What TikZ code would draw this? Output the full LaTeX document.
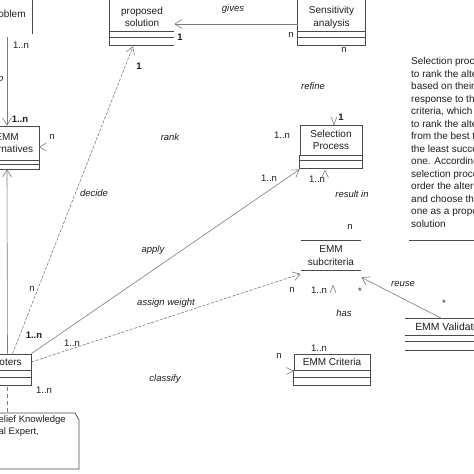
\documentclass[tikz,border=0pt]{standalone}
\usepackage{fontspec}
\setmainfont{Liberation Sans}
\usetikzlibrary{arrows.meta}
\definecolor{boxgray}{HTML}{4A4A4A}
\definecolor{linegray}{HTML}{7C7C7C}
\definecolor{ink}{HTML}{1E1E1E}
\newcommand{\boxfont}{\fontsize{10}{12.5}\selectfont}
\newcommand{\rolefont}{\fontsize{9.5}{11}\selectfont}
\newcommand{\verbfont}{\fontsize{9.5}{11}\selectfont\itshape}
% two empty compartments under a class name
\newcommand{\umlparts}[3]{\draw[box] (#1.south west) rectangle ([yshift=-#3pt]#1.south east)
  ([yshift=-#2pt]#1.south west) -- ([yshift=-#2pt]#1.south east);}
% open arrow head whose line is lost
\newcommand{\openhead}[3]{\draw[draw=linegray, line width=0.6pt] (#1) ++(#2+#3:8) -- (#1) -- ++(#2-#3:8);}
\begin{document}
\begin{tikzpicture}[x=1pt,y=-1pt,
    box/.style={draw=boxgray, line width=0.8pt},
    cls/.style={box, rectangle, inner sep=0pt, align=center, font=\boxfont, text=ink},
    bare/.style={cls, draw=none},
    role/.style={inner sep=0pt, font=\rolefont, text=ink},
    one/.style={role, font=\rolefont\bfseries},
    verb/.style={inner sep=0pt, font=\verbfont, text=ink},
    assoc/.style={draw=linegray, line width=0.6pt, -{Straight Barb[length=7pt,width=9pt]}},
    dep/.style={assoc, dash pattern=on 3pt off 1.5pt}]
  \useasboundingbox (0,0) rectangle (474,474);
  \fill[white] (0,0) rectangle (474,474);
  \clip (0,0) rectangle (474,474);
  \path
    (7,14) node[bare, minimum width=50pt, minimum height=40pt] (prob) {Problem}
    (7,143) node[cls, minimum width=64pt, minimum height=34pt] (alt) {EMM\\Alternatives}
    (142,17) node[bare, minimum width=64pt, minimum height=28pt] (sol) {proposed\\solution}
    (331.5,17.5) node[bare, minimum width=67pt, minimum height=27pt] (sens) {Sensitivity\\analysis}
    (331,140) node[cls, minimum width=62pt, minimum height=30pt] (sel) {Selection\\Process}
    (331,255.5) node[bare, minimum width=60pt, minimum height=29pt] (subc) {EMM\\subcriteria}
    (332,362) node[cls, minimum width=76pt, minimum height=16pt] (crit) {EMM Criteria}
    (449,327) node[bare, minimum width=88pt, minimum height=16pt, font={\fontsize{10.4}{12.5}\selectfont}] (valid) {EMM Validator}
    (7.5,362) node[cls, minimum width=47pt, minimum height=16pt] (vot) {Voters};
  \draw[box] (prob.east |- 0,-5) -- (prob.east |- 0,34);
  \umlparts{alt}{4}{9}
  \draw[box] (sol.west |- 0,-5) -- (sol.west |- 0,45) -- (sol.east |- 0,45)
    (sol.south west) -- (sol.south east) ([yshift=-6pt]sol.south west) -- ([yshift=-6pt]sol.south east);
  \draw[box] (sens.west |- 0,-5) rectangle (sens.east |- 0,45)
    (sens.south west) -- (sens.south east) ([yshift=-6pt]sens.south west) -- ([yshift=-6pt]sens.south east);
  \umlparts{sel}{5}{13}
  \draw[box] (subc.north west) -- (subc.north east) (subc.south west) -- (subc.south east);
  \umlparts{crit}{7}{15}
  \draw[box] (valid.north west) -- (valid.north east) (valid.south west) -- (valid.south east)
    ([yshift=-6pt]valid.south west) -- ([yshift=-6pt]valid.south east)
    ([yshift=-15pt]valid.south west) -- ([yshift=-15pt]valid.south east);
  \umlparts{vot}{7}{15}
  % notes
  \node[anchor=north west, align=left, inner sep=0pt, font={\fontsize{9.5}{12}\selectfont}, text=ink]
    (know) at (-1.5,415.5) {elief Knowledge\\al Expert,};
  \draw[box] (-20,413) -- (75,413) -- (79,420) -- (79,469) -- (-20,469);
  \node[anchor=north west, align=left, inner sep=0pt, font={\fontsize{10}{12.5}\selectfont}, text=ink]
    (desc) at (411,57.3) {Selection process is\\to rank the alternatives\\based on their\\response to the\\criteria, which is used\\to rank the alternatives\\from the best to\\the least successful\\one. According to\\selection process,\\order the alternatives\\and choose the best\\one as a proposed\\solution};
  \draw[box] (409,240) -- (480,240);
  \begin{scope}[assoc]
    \draw[shorten <=3pt] (prob.south) to (alt.north);
    \draw (vot.north) to ([yshift=-9pt]alt.south);
    \draw[dep] ([xshift=5pt]vot.north) to ([xshift=-9pt,yshift=-15pt]sol.south);
    \draw (vot.north east) to ([yshift=-14pt]sel.south west);
    \draw[dep] (vot.east) to ([yshift=-3.5pt]subc.south west);
    \draw ([yshift=-6.5pt]sens.west) to ([yshift=-7pt]sol.east);
    \draw ([xshift=-7pt]valid.north) to ([yshift=-7pt]subc.south east);
    \draw[-, dash pattern=on 4pt off 3pt] ([yshift=-17pt]vot.south) to (vot.south |- 0,413);
  \end{scope}
  \openhead{[yshift=-4pt]alt.east}{0}{30}
  \openhead{[xshift=3pt]sel.north}{270}{20}
  \openhead{[xshift=-6pt,yshift=-15pt]sel.south}{90}{25}
  \openhead{[xshift=2pt,yshift=-15pt]subc.south}{90}{22}
  \openhead{[yshift=-9pt]crit.west}{180}{25}
  % labels
  \path
    (21,45) node[role] (m-prob) {1..n}
    (3.5,78) node[verb, anchor=east] (v-lead) {lead to}
    (20,119) node[one] (m-alt-top) {1..n}
    (52,137) node[role] (m-alt-right) {n}
    (180,37) node[one] (m-sol-gives) {1}
    (139,66) node[one] (m-sol-decide) {1}
    (233,9) node[verb] (v-gives) {gives}
    (291,35) node[role] (m-sens-gives) {n}
    (344,50) node[role] (m-sens-refine) {n}
    (313,86) node[verb] (v-refine) {refine}
    (341,117) node[one] (m-sel-refine) {1}
    (282,135) node[role] (m-sel-rank) {1..n}
    (170,137) node[verb] (v-rank) {rank}
    (269,178) node[role] (m-sel-apply) {1..n}
    (317,179) node[role] (m-sel-result) {1..n}
    (352,194) node[verb] (v-result) {result in}
    (94,193) node[verb] (v-decide) {decide}
    (350,227) node[role] (m-subc-result) {n}
    (153,250) node[verb] (v-apply) {apply}
    (32,289) node[role] (m-vot-decide) {n}
    (292,290) node[role] (m-subc-weight) {n}
    (319,290) node[role] (m-subc-has) {1..n}
    (360,291) node[role] (m-subc-reuse) {*}
    (444,303) node[role] (m-valid-reuse) {*}
    (403,284) node[verb] (v-reuse) {reuse}
    (166,303) node[verb] (v-weight) {assign weight}
    (344,313) node[verb] (v-has) {has}
    (34,335) node[one] (m-vot-apply) {1..n}
    (72,343) node[role] (m-vot-weight) {1..n}
    (319,348) node[role] (m-crit-has) {1..n}
    (279,356) node[role] (m-crit-classify) {n}
    (165,379) node[verb] (v-classify) {classify}
    (44,390) node[role] (m-vot-classify) {1..n};
\end{tikzpicture}
\end{document}
